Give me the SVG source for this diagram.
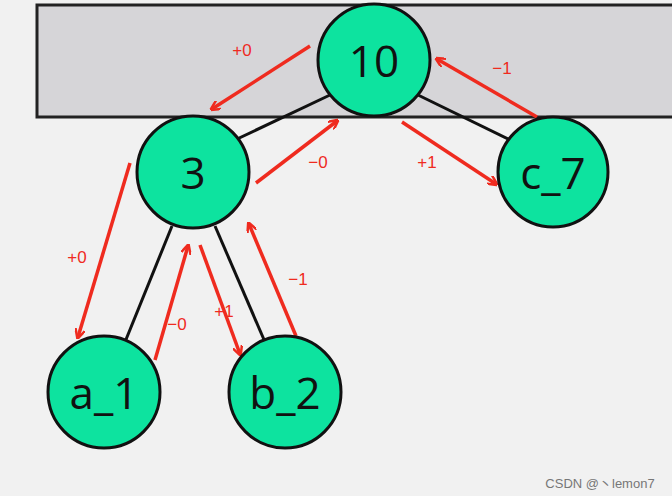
<svg xmlns="http://www.w3.org/2000/svg" width="672" height="496" viewBox="0 0 672 496">
<style>
.n{fill:#0de39f;stroke:#111;stroke-width:3}
.t{font-family:"Open Sans","Liberation Sans",sans-serif;font-size:44px;fill:#111;text-anchor:middle;dominant-baseline:central}
.e{stroke:#111;stroke-width:3}
.r{stroke:#ef2b1f;stroke-width:3.5;marker-end:url(#a)}
.l{font-family:"Liberation Sans",sans-serif;font-size:17px;fill:#ef2b1f;text-anchor:middle}
</style>
<defs><marker id="a" markerWidth="10" markerHeight="10" refX="8" refY="5" orient="auto" markerUnits="userSpaceOnUse" viewBox="0 0 10 10"><path d="M0,0L10,5L0,10" fill="none" stroke="#ef2b1f" stroke-width="2.5"/></marker></defs>
<rect width="672" height="496" fill="#f1f1f1"/>
<rect x="37" y="5" width="650" height="112" fill="#d6d5d8" stroke="#222" stroke-width="3"/>
<g id="edges">
<line class="e" x1="330" y1="95" x2="235" y2="140"/>
<line class="e" x1="418" y1="95" x2="510" y2="140"/>
<line class="e" x1="172" y1="226" x2="125" y2="342"/>
<line class="e" x1="215" y1="226" x2="265" y2="342"/>
<line class="r" x1="310" y1="46" x2="212" y2="109"/>
<line class="r" x1="256" y1="183" x2="337" y2="121"/>
<line class="r" x1="402" y1="122" x2="496" y2="184"/>
<line class="r" x1="537" y1="117" x2="437" y2="59"/>
<line class="r" x1="130" y1="163" x2="78" y2="337"/>
<line class="r" x1="155" y1="360" x2="188" y2="246"/>
<line class="r" x1="200" y1="245" x2="240" y2="354"/>
<line class="r" x1="296" y1="336" x2="249" y2="224"/>
<text class="l" x="242" y="56">+0</text>
<text class="l" x="318" y="168">−0</text>
<text class="l" x="427" y="168">+1</text>
<text class="l" x="502" y="74">−1</text>
<text class="l" x="77" y="263">+0</text>
<text class="l" x="177" y="330">−0</text>
<text class="l" x="224" y="317">+1</text>
<text class="l" x="298" y="285">−1</text>
</g>
<g id="n10"><circle class="n" cx="374" cy="60" r="56"/><text class="t" x="374" y="60">10</text></g>
<g id="n3"><circle class="n" cx="193" cy="172" r="56"/><text class="t" x="193" y="172">3</text></g>
<g id="nc7"><circle class="n" cx="553" cy="172" r="55"/><text class="t" x="553" y="172">c_7</text></g>
<g id="na1"><circle class="n" cx="104" cy="392" r="56"/><text class="t" x="104" y="392">a_1</text></g>
<g id="nb2"><circle class="n" cx="285" cy="392" r="56"/><text class="t" x="285" y="392">b_2</text></g>
<text x="600" y="488" font-family="'Liberation Sans','Noto Sans CJK SC',sans-serif" font-size="13" fill="#777" text-anchor="middle">CSDN @丶lemon7</text>
</svg>
